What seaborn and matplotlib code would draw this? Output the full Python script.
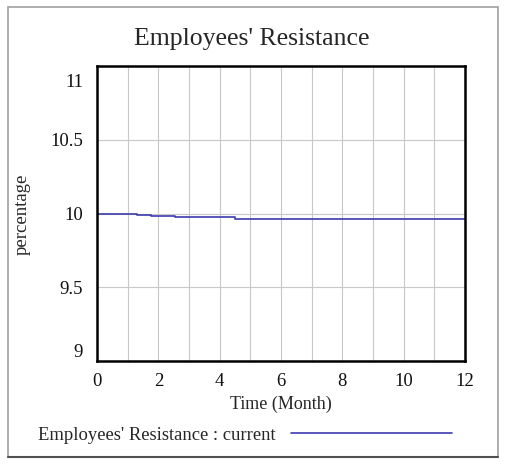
import matplotlib
matplotlib.use('Agg')
import matplotlib.pyplot as plt
import matplotlib.transforms as mtransforms
import seaborn as sns
import pandas as pd
from matplotlib.patches import Rectangle
from matplotlib.lines import Line2D

# step values
time_month = [0, 1.3, 1.75, 2.55, 4.5, 12]
resistance = [10.0, 9.992, 9.984, 9.976, 9.966, 9.966]
x_ticks = [0, 2, 4, 6, 8, 10, 12]
y_ticks = [9, 9.5, 10, 10.5, 11]
y_tick_labels = ['9', '9.5', '10', '10.5', '11']

df = pd.DataFrame({'time': time_month, 'value': resistance})

sns.set_style('white')
plt.rcParams['font.family'] = ['Liberation Serif', 'DejaVu Serif']

fig = plt.figure(figsize=(5.06, 4.66), dpi=100)
# outer frame
fig.patches.append(Rectangle((8 / 506, 1 - 457 / 466), 490 / 506, 450 / 466,
                             transform=fig.transFigure, fill=False,
                             edgecolor='#a0a0a0', linewidth=1.2))
fig.add_artist(Line2D([8 / 506, 498 / 506], [1 - 457 / 466] * 2,
                      transform=fig.transFigure, color='#505050', linewidth=1.5))

ax = fig.add_axes([97 / 506, 1 - 361 / 466, 368 / 506, 295 / 466])
sns.lineplot(data=df, x='time', y='value', ax=ax, drawstyle='steps-post',
             color='#3c3cb0', linewidth=1.2)

ax.set_xlim(0, 12)
ax.set_ylim(9, 11)
ax.set_xticks(range(0, 13), minor=True)
ax.set_xticks(x_ticks)
ax.set_yticks(y_ticks)
ax.set_yticklabels(y_tick_labels)
ax.grid(True, which='both', color='#c8c8c8', linewidth=0.8)
ax.set_axisbelow(True)
ax.tick_params(axis='both', which='both', length=0, labelsize=13.5, colors='#111111')
ax.tick_params(axis='y', pad=10)
ax.tick_params(axis='x', pad=9)
labels = ax.get_yticklabels()
labels[0].set_va('bottom')
labels[-1].set_va('top')
shift = mtransforms.ScaledTranslation(0, -6 / 72, fig.dpi_scale_trans)
labels[-1].set_transform(labels[-1].get_transform() + shift)
for s in ax.spines.values():
    s.set_color('black')
    s.set_linewidth(1.8)

ax.set_xlabel('Time (Month)', fontsize=13, labelpad=4)
ax.set_ylabel('')
fig.text(22 / 506, 1 - 214 / 466, 'percentage', rotation=90, ha='center', va='center', fontsize=13.5)
fig.text(252 / 506, 1 - 39 / 466, "Employees' Resistance", ha='center', va='center', fontsize=18.5)

# legend
fig.text(38 / 506, 1 - 436 / 466, "Employees' Resistance : current", ha='left', va='center', fontsize=13.4)
fig.add_artist(Line2D([291 / 506, 452 / 506], [1 - 433 / 466] * 2,
                      transform=fig.transFigure, color='#3c3cb0', linewidth=1.2))

fig.savefig('out.png', dpi=100)
